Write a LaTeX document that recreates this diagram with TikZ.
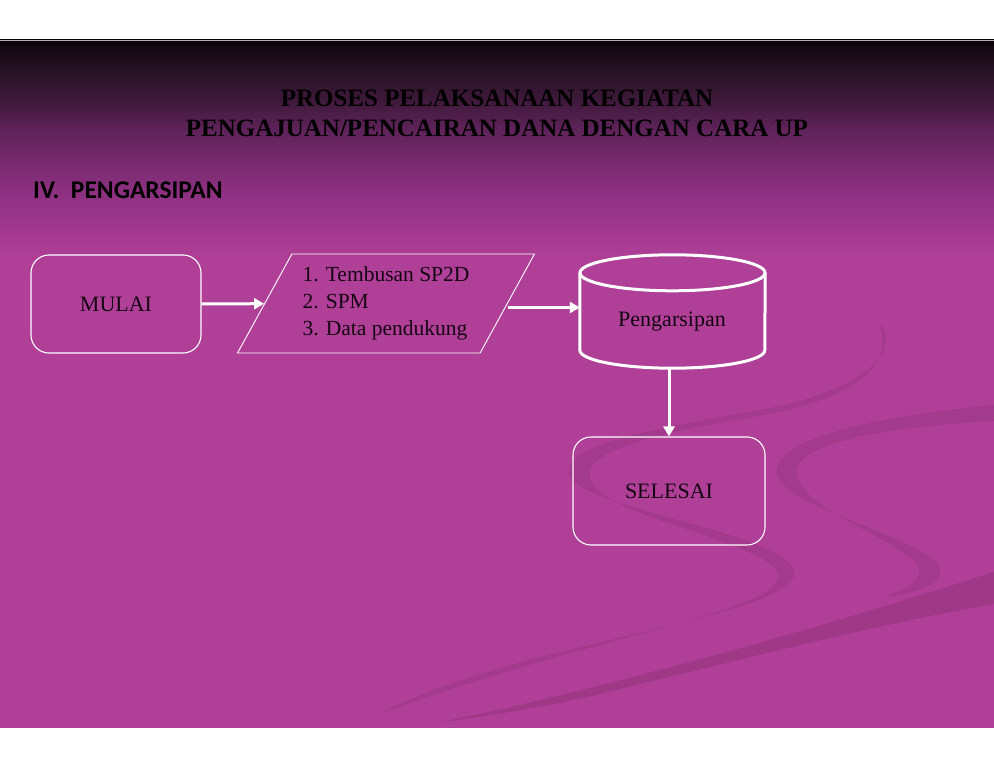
\documentclass[tikz,border=0pt]{standalone}
\usepackage{fontspec}
\setmainfont{Liberation Serif}
\newfontfamily\slidesans{Carlito}
\usetikzlibrary{shapes.geometric,arrows.meta}
\definecolor{slidebg}{RGB}{176,63,151}
\definecolor{inkdark}{RGB}{22,6,20}
\pgfdeclareverticalshading{slidetop}{100bp}{
    color(0bp)=(slidebg); color(25bp)=(slidebg);
    color(29.5bp)=(rgb,255:red,167;green,59;blue,146);
    color(40.9bp)=(rgb,255:red,140;green,48;blue,128);
    color(54.5bp)=(rgb,255:red,95;green,35;blue,90);
    color(61.4bp)=(rgb,255:red,62;green,25;blue,58);
    color(68.2bp)=(rgb,255:red,38;green,18;blue,35);
    color(72.3bp)=(rgb,255:red,25;green,10;blue,22);
    color(75bp)=(rgb,255:red,10;green,2;blue,8);
    color(100bp)=(rgb,255:red,10;green,2;blue,8)}
\begin{document}
\begin{tikzpicture}[x=1pt,y=1pt,
    flowbox/.style={draw=white,line width=1.1pt,rounded corners=18pt,text=inkdark,
        minimum width=170pt,minimum height=98pt,font=\fontsize{22}{26}\selectfont},
    databox/.style={trapezium,trapezium left angle=59,trapezium right angle=121,
        trapezium stretches=true,draw=white,line width=0.9pt,text=inkdark,align=left,
        minimum width=298pt,minimum height=99pt,inner xsep=0pt,font=\fontsize{21.5}{27}\selectfont},
    flowarrow/.style={white,line width=3pt,-{Triangle[length=10pt,width=11pt]}},
    swoosh/.style={fill=black,fill opacity=0.07,draw=none}]
\useasboundingbox (0,0) rectangle (994,-768);
\fill[white] (0,0) rectangle (994,-768);
% slide background
\fill[slidebg] (0,-40) rectangle (994,-728);
\shade[shading=slidetop] (0,-40) rectangle (994,-260);
\draw[gray!60,line width=0.8pt] (0,-40) -- (994,-40);
% swooshes
\path[swoosh] (878,-322) .. controls (905,-352) and (860,-392) .. (760,-410)
    .. controls (650,-430) and (558,-445) .. (570,-476)
    .. controls (585,-508) and (765,-530) .. (792,-566)
    .. controls (812,-596) and (700,-618) .. (560,-652)
    .. controls (480,-672) and (420,-692) .. (380,-714)
    .. controls (450,-688) and (520,-667) .. (600,-645)
    .. controls (720,-612) and (790,-596) .. (776,-570)
    .. controls (756,-540) and (598,-515) .. (590,-478)
    .. controls (582,-450) and (662,-432) .. (770,-414)
    .. controls (870,-394) and (895,-356) .. (878,-322) -- cycle;
\path[swoosh] (994,-405) .. controls (900,-414) and (785,-433) .. (777,-468)
    .. controls (768,-502) and (900,-530) .. (936,-562)
    .. controls (952,-580) and (922,-593) .. (884,-597)
    .. controls (914,-586) and (926,-576) .. (916,-563)
    .. controls (882,-531) and (792,-506) .. (797,-468)
    .. controls (806,-440) and (900,-426) .. (994,-421) -- cycle;
\path[swoosh,fill opacity=0.1] (994,-572) .. controls (850,-618) and (700,-662) .. (540,-700)
    .. controls (500,-710) and (470,-716) .. (440,-722)
    .. controls (520,-712) and (580,-700) .. (640,-684)
    .. controls (780,-650) and (880,-624) .. (994,-604) -- cycle;
% titles
\node[text=black,font=\bfseries\fontsize{25}{28}\selectfont] (title1) at (497,-98) {PROSES PELAKSANAAN KEGIATAN};
\node[text=black,font=\bfseries\fontsize{25}{28}\selectfont] (title2) at (497,-128) {PENGAJUAN/PENCAIRAN DANA DENGAN CARA UP};
\node[anchor=west,text=black,font=\slidesans\bfseries\fontsize{25.5}{28}\selectfont,inner sep=0pt] (step4) at (33,-190) {IV.\ \ PENGARSIPAN};
% flowchart
\node[flowbox] (mulai) at (116,-304) {MULAI};
\node[databox] (data) at (386,-303.5) {1. Tembusan SP2D\\2. SPM\\3. Data pendukung};
\node[minimum width=185pt,minimum height=113pt,inner sep=0pt] (store) at (672.5,-311.5) {};
\draw[white,line width=3pt] ([yshift=-18pt]store.north) ellipse [x radius=92.5pt,y radius=18pt];
\draw[white,line width=3pt] ([yshift=-18pt]store.north west) -- ([yshift=18pt]store.south west)
    arc[start angle=180,end angle=360,x radius=92.5pt,y radius=18pt]
    -- ([yshift=-18pt]store.north east);
\node[text=inkdark,font=\fontsize{22}{26}\selectfont] (storetext) at (672,-322) {Pengarsipan};
\node[flowbox,minimum width=192pt,minimum height=108pt] (selesai) at (669,-491) {SELESAI};
\draw[flowarrow] (mulai) -- (data);
\draw[flowarrow] ([yshift=-4pt]data.east) -- ([yshift=-4pt]data.east -| store.west);
\draw[flowarrow] (store.south -| selesai) -- (selesai.north);
\end{tikzpicture}
\end{document}
